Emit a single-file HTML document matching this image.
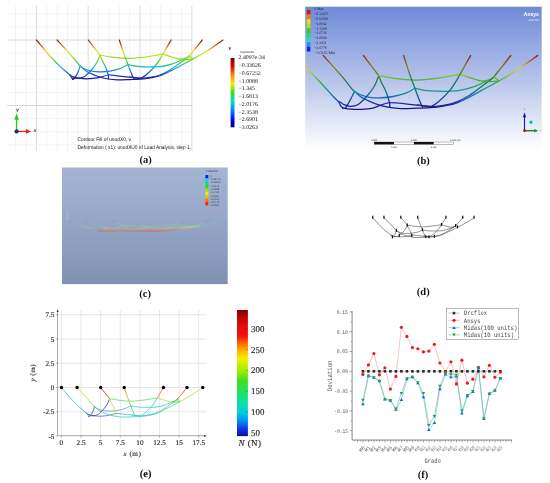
<!DOCTYPE html>
<html lang="en"><head><meta charset="utf-8"><title>Figure</title>
<style>html,body{margin:0;padding:0;background:#fff}svg{display:block}text{font-family:"Liberation Serif",serif}.ss{font-family:"Liberation Sans",sans-serif}.mo{font-family:"Liberation Mono",monospace}#pe text{stroke:#222;stroke-width:.12px}text{text-rendering:geometricPrecision}.cap{font-family:"Liberation Serif",serif;font-weight:bold;font-size:10.5px;fill:#111}</style></head><body>
<svg width="550" height="483" viewBox="0 0 550 483">
<defs>
<linearGradient id="ja" gradientUnits="userSpaceOnUse" x1="0" y1="40" x2="0" y2="80"><stop offset="0" stop-color="#7a2828"/><stop offset="0.08" stop-color="#b03028"/><stop offset="0.18" stop-color="#e87820"/><stop offset="0.27" stop-color="#ece020"/><stop offset="0.36" stop-color="#cce020"/><stop offset="0.45" stop-color="#90d828"/><stop offset="0.55" stop-color="#40cc40"/><stop offset="0.66" stop-color="#18c0c0"/><stop offset="0.80" stop-color="#2070d8"/><stop offset="0.92" stop-color="#1a28b8"/><stop offset="1" stop-color="#181888"/></linearGradient>
<linearGradient id="jb" gradientUnits="userSpaceOnUse" x1="0" y1="55.6" x2="0" y2="109"><stop offset="0" stop-color="#8a2020"/><stop offset="0.08" stop-color="#b04020"/><stop offset="0.18" stop-color="#d0b020"/><stop offset="0.24" stop-color="#d8d828"/><stop offset="0.36" stop-color="#90c828"/><stop offset="0.50" stop-color="#30a840"/><stop offset="0.66" stop-color="#109898"/><stop offset="0.80" stop-color="#1c60b8"/><stop offset="0.90" stop-color="#1a28a8"/><stop offset="1" stop-color="#141488"/></linearGradient>
<linearGradient id="jbd" gradientUnits="userSpaceOnUse" x1="0" y1="55.6" x2="0" y2="109"><stop offset="0" stop-color="#802020"/><stop offset="0.10" stop-color="#8a4820"/><stop offset="0.22" stop-color="#808020"/><stop offset="0.36" stop-color="#408030"/><stop offset="0.52" stop-color="#187858"/><stop offset="0.68" stop-color="#107088"/><stop offset="0.82" stop-color="#1848a0"/><stop offset="0.92" stop-color="#1a2498"/><stop offset="1" stop-color="#141480"/></linearGradient>
<linearGradient id="jc" gradientUnits="userSpaceOnUse" x1="0" y1="221.3" x2="0" y2="231.2"><stop offset="0" stop-color="#6f8fe8"/><stop offset="0.2" stop-color="#60d8e0"/><stop offset="0.4" stop-color="#70e070"/><stop offset="0.6" stop-color="#d8e060"/><stop offset="0.8" stop-color="#f0a040"/><stop offset="1" stop-color="#f05038"/></linearGradient>
<linearGradient id="cbA" x1="0" y1="0" x2="0" y2="1"><stop offset="0" stop-color="#7a0000"/><stop offset="0.12" stop-color="#e00000"/><stop offset="0.25" stop-color="#ff8c00"/><stop offset="0.37" stop-color="#f0f000"/><stop offset="0.5" stop-color="#30e020"/><stop offset="0.63" stop-color="#00e0d0"/><stop offset="0.78" stop-color="#0070ff"/><stop offset="0.9" stop-color="#0000e0"/><stop offset="1" stop-color="#000078"/></linearGradient>
<linearGradient id="cbE" x1="0" y1="0" x2="0" y2="1"><stop offset="0" stop-color="#800000"/><stop offset="0.06" stop-color="#c00404"/><stop offset="0.14" stop-color="#e80c0c"/><stop offset="0.21" stop-color="#f41410"/><stop offset="0.26" stop-color="#ff6000"/><stop offset="0.317" stop-color="#ffb000"/><stop offset="0.386" stop-color="#f0f000"/><stop offset="0.478" stop-color="#a0f000"/><stop offset="0.56" stop-color="#40e020"/><stop offset="0.65" stop-color="#20e060"/><stop offset="0.73" stop-color="#10e0a0"/><stop offset="0.81" stop-color="#00d0e0"/><stop offset="0.88" stop-color="#0090f0"/><stop offset="0.95" stop-color="#1030e0"/><stop offset="1" stop-color="#1010a0"/></linearGradient>
<linearGradient id="bgB" x1="0" y1="0" x2="0" y2="1"><stop offset="0" stop-color="#6e8bd8"/><stop offset="0.5" stop-color="#b5c3ea"/><stop offset="0.985" stop-color="#ffffff"/></linearGradient>
<linearGradient id="bgC" x1="0" y1="0" x2="0" y2="1"><stop offset="0" stop-color="#a4b4d3"/><stop offset="0.46" stop-color="#95a6c7"/><stop offset="1" stop-color="#8092b4"/></linearGradient>
<linearGradient id="eH" gradientUnits="userSpaceOnUse" x1="0" y1="387.5" x2="0" y2="417"><stop offset="0" stop-color="#e03020"/><stop offset="0.25" stop-color="#f08020"/><stop offset="0.42" stop-color="#d8d020"/><stop offset="0.6" stop-color="#50d860"/><stop offset="0.8" stop-color="#30d0c0"/><stop offset="1" stop-color="#30c8d8"/></linearGradient>
<linearGradient id="eY" gradientUnits="userSpaceOnUse" x1="0" y1="387.5" x2="0" y2="417"><stop offset="0" stop-color="#e8d820"/><stop offset="0.5" stop-color="#b0e030"/><stop offset="0.8" stop-color="#40d890"/><stop offset="1" stop-color="#30c8d0"/></linearGradient>
<linearGradient id="eC" gradientUnits="userSpaceOnUse" x1="0" y1="387.5" x2="0" y2="417"><stop offset="0" stop-color="#30d8d0"/><stop offset="0.7" stop-color="#30c0d8"/><stop offset="1" stop-color="#3070d0"/></linearGradient>
<linearGradient id="eBd" gradientUnits="userSpaceOnUse" x1="95" y1="0" x2="203" y2="0"><stop offset="0" stop-color="#60d080"/><stop offset="0.2" stop-color="#40d0c0"/><stop offset="0.55" stop-color="#40d0d4"/><stop offset="0.75" stop-color="#70dc80"/><stop offset="0.88" stop-color="#c0e040"/><stop offset="1" stop-color="#e8e040"/></linearGradient>
<linearGradient id="eBl" gradientUnits="userSpaceOnUse" x1="88" y1="0" x2="172" y2="0"><stop offset="0" stop-color="#5058c8"/><stop offset="0.3" stop-color="#7078cc"/><stop offset="0.45" stop-color="#48c8d4"/><stop offset="1" stop-color="#40d0d4"/></linearGradient>
<linearGradient id="eE" gradientUnits="userSpaceOnUse" x1="0" y1="387.5" x2="0" y2="417"><stop offset="0" stop-color="#e85040"/><stop offset="0.33" stop-color="#f07060"/><stop offset="0.38" stop-color="#40d0c8"/><stop offset="1" stop-color="#38c8d8"/></linearGradient>
<linearGradient id="eF" gradientUnits="userSpaceOnUse" x1="0" y1="387.5" x2="0" y2="417"><stop offset="0" stop-color="#d83828"/><stop offset="0.38" stop-color="#e86048"/><stop offset="0.43" stop-color="#40d0c8"/><stop offset="1" stop-color="#38c8d8"/></linearGradient>
<linearGradient id="eC5" gradientUnits="userSpaceOnUse" x1="0" y1="387.5" x2="0" y2="399"><stop offset="0" stop-color="#8a3030"/><stop offset="1" stop-color="#b85848"/></linearGradient>
<linearGradient id="eC8" gradientUnits="userSpaceOnUse" x1="0" y1="387.5" x2="0" y2="417"><stop offset="0" stop-color="#d88030"/><stop offset="0.3" stop-color="#d8b040"/><stop offset="0.5" stop-color="#90d040"/><stop offset="0.8" stop-color="#40d080"/><stop offset="1" stop-color="#30c8c0"/></linearGradient>
</defs>
<rect width="550" height="483" fill="#fff"/>
<g id="pa">
<line x1="15.68" y1="5.8" x2="15.68" y2="151" stroke="#eeeeee" stroke-width="0.7"/><line x1="26.04" y1="5.8" x2="26.04" y2="151" stroke="#eeeeee" stroke-width="0.7"/><line x1="36.4" y1="5.8" x2="36.4" y2="151" stroke="#d2d2d2" stroke-width="0.8"/><line x1="46.76" y1="5.8" x2="46.76" y2="151" stroke="#eeeeee" stroke-width="0.7"/><line x1="57.12" y1="5.8" x2="57.12" y2="151" stroke="#eeeeee" stroke-width="0.7"/><line x1="67.48" y1="5.8" x2="67.48" y2="151" stroke="#eeeeee" stroke-width="0.7"/><line x1="77.84" y1="5.8" x2="77.84" y2="151" stroke="#eeeeee" stroke-width="0.7"/><line x1="88.2" y1="5.8" x2="88.2" y2="151" stroke="#d2d2d2" stroke-width="0.8"/><line x1="98.56" y1="5.8" x2="98.56" y2="151" stroke="#eeeeee" stroke-width="0.7"/><line x1="108.92" y1="5.8" x2="108.92" y2="151" stroke="#eeeeee" stroke-width="0.7"/><line x1="119.28" y1="5.8" x2="119.28" y2="151" stroke="#eeeeee" stroke-width="0.7"/><line x1="129.64" y1="5.8" x2="129.64" y2="151" stroke="#eeeeee" stroke-width="0.7"/><line x1="140" y1="5.8" x2="140" y2="151" stroke="#d2d2d2" stroke-width="0.8"/><line x1="150.36" y1="5.8" x2="150.36" y2="151" stroke="#eeeeee" stroke-width="0.7"/><line x1="160.72" y1="5.8" x2="160.72" y2="151" stroke="#eeeeee" stroke-width="0.7"/><line x1="171.08" y1="5.8" x2="171.08" y2="151" stroke="#eeeeee" stroke-width="0.7"/><line x1="181.44" y1="5.8" x2="181.44" y2="151" stroke="#eeeeee" stroke-width="0.7"/><line x1="191.8" y1="5.8" x2="191.8" y2="151" stroke="#d2d2d2" stroke-width="0.8"/><line x1="7.2" y1="13.8" x2="192.6" y2="13.8" stroke="#eeeeee" stroke-width="0.7"/><line x1="7.2" y1="26.9" x2="192.6" y2="26.9" stroke="#eeeeee" stroke-width="0.7"/><line x1="7.2" y1="40" x2="192.6" y2="40" stroke="#cecece" stroke-width="0.8"/><line x1="7.2" y1="53.1" x2="192.6" y2="53.1" stroke="#eeeeee" stroke-width="0.7"/><line x1="7.2" y1="66.2" x2="192.6" y2="66.2" stroke="#eeeeee" stroke-width="0.7"/><line x1="7.2" y1="79.3" x2="192.6" y2="79.3" stroke="#eeeeee" stroke-width="0.7"/><line x1="7.2" y1="92.4" x2="192.6" y2="92.4" stroke="#eeeeee" stroke-width="0.7"/><line x1="7.2" y1="105.5" x2="192.6" y2="105.5" stroke="#cecece" stroke-width="0.8"/><line x1="7.2" y1="118.6" x2="192.6" y2="118.6" stroke="#eeeeee" stroke-width="0.7"/><line x1="7.2" y1="131.7" x2="192.6" y2="131.7" stroke="#eeeeee" stroke-width="0.7"/><line x1="7.2" y1="144.8" x2="192.6" y2="144.8" stroke="#eeeeee" stroke-width="0.7"/>
<g fill="none" stroke="url(#ja)" stroke-width="1.2" stroke-linecap="round" stroke-linejoin="round">
<path d="M36.4 40 C38.67 42.67 46.07 51.6 50 56 C53.93 60.4 56.75 63.3 60 66.4 C63.25 69.5 67.38 72.47 69.5 74.6 C71.62 76.73 72.17 78.43 72.7 79.2"/>
<path d="M69.5 74.6 C70 74.93 71.33 76.05 72.5 76.6 C73.67 77.15 75.83 77.68 76.5 77.9"/>
<path d="M57.1 40 C59.25 42.33 66.18 49.67 70 54 C73.82 58.33 78.33 64 80 66"/>
<path d="M72.7 79.2 C73.33 78.55 75.45 76.92 76.5 75.3 C77.55 73.68 78.42 71.05 79 69.5 C79.58 67.95 79.83 66.58 80 66"/>
<path d="M72.7 79.2 C73.33 78.98 74.38 77.97 76.5 77.9 C78.62 77.83 82.65 78.72 85.4 78.8 C88.15 78.88 90.45 78.67 93 78.4 C95.55 78.13 98.15 77.77 100.7 77.2 C103.25 76.63 105.53 75.22 108.3 75 C111.07 74.78 113.68 75.53 117.3 75.9 C120.92 76.27 126.22 76.82 130 77.2 C133.78 77.58 138.33 78.03 140 78.2"/>
<path d="M80 66 C80.9 66.75 83.65 69.27 85.4 70.5 C87.15 71.73 88.37 72.4 90.5 73.4 C92.63 74.4 95.23 75.57 98.2 76.5 C101.17 77.43 105.12 78.43 108.3 79 C111.48 79.57 113.68 79.8 117.3 79.9 C120.92 80 126.22 79.72 130 79.6 C133.78 79.48 136.67 79.47 140 79.2 C143.33 78.93 146.67 78.57 150 78 C153.33 77.43 156.67 76.92 160 75.8 C163.33 74.68 166.67 72.93 170 71.3 C173.33 69.67 176 68.12 180 66 C184 63.88 189 61.43 194 58.6 C199 55.77 205.17 52.1 210 49 C214.83 45.9 220.83 41.5 223 40"/>
<path d="M80 66 C80.9 66.55 83.23 68.4 85.4 69.3 C87.57 70.2 90.45 70.98 93 71.4 C95.55 71.82 97.7 71.9 100.7 71.8 C103.7 71.7 107.62 71.38 111 70.8 C114.38 70.22 118.17 69.33 121 68.3 C123.83 67.27 126.83 65.22 128 64.6"/>
<path d="M128 64.6 C130 64.93 134.67 66.27 140 66.6 C145.33 66.93 154.67 67.03 160 66.6 C165.33 66.17 168 65.27 172 64 C176 62.73 181 60.28 184 59 C187 57.72 189 56.75 190 56.3"/>
<path d="M88.2 40 L100 55"/>
<path d="M100 55 C99.48 56.25 98.27 60.08 96.9 62.5 C95.53 64.92 93.72 67.27 91.8 69.5 C89.88 71.73 87.1 74.52 85.4 75.9 C83.7 77.28 83 77.42 81.6 77.8 C80.2 78.18 77.77 78.13 77 78.2"/>
<path d="M100 55 C100.33 55.83 101.03 57.9 102 60 C102.97 62.1 104.75 65.05 105.8 67.6 C106.85 70.15 107.85 73.47 108.3 75.3 C108.75 77.13 108.47 78.05 108.5 78.6"/>
<path d="M100 55 C102.33 55.4 109.33 56.83 114 57.4 C118.67 57.97 123.67 58.37 128 58.4 C132.33 58.43 136 58 140 57.6 C144 57.2 148.17 56.6 152 56 C155.83 55.4 161.17 54.33 163 54"/>
<path d="M163 54 C164.5 54.5 169.17 56.13 172 57 C174.83 57.87 177.67 59.03 180 59.2 C182.33 59.37 184.5 58.53 186 58 C187.5 57.47 188.5 56.33 189 56"/>
<path d="M119.3 40 C120.08 42.33 122.55 49.9 124 54 C125.45 58.1 126.67 61.1 128 64.6 C129.33 68.1 131 72.67 132 75 C133 77.33 133.67 78 134 78.6"/>
<path d="M171.1 40 C169.75 42.33 165.52 49.83 163 54 C160.48 58.17 158.83 61.5 156 65 C153.17 68.5 148.67 72.73 146 75 C143.33 77.27 141 78 140 78.6"/>
<path d="M202.2 40 C200 42.67 192.7 52.17 189 56 C185.3 59.83 183.17 60.67 180 63 C176.83 65.33 173.33 68 170 70 C166.67 72 163.33 73.77 160 75 C156.67 76.23 153.33 76.83 150 77.4 C146.67 77.97 143.33 78.43 140 78.4 C136.67 78.37 131.67 77.4 130 77.2"/>
<path d="M189 56 C189.58 56.5 193.33 58.4 192.5 59 C191.67 59.6 185.42 59.5 184 59.6"/>
</g>
<line x1="16.6" y1="131.4" x2="16.6" y2="119" stroke="#22cc22" stroke-width="1.3"/><path d="M16.6 113.2 L14.3 119.7 L18.9 119.7 Z" fill="#22cc22"/>
<line x1="16.6" y1="131.4" x2="26.4" y2="131.4" stroke="#e42424" stroke-width="1.3"/><path d="M31.1 131.4 L25.9 129.1 L25.9 133.7 Z" fill="#e42424"/>
<circle cx="16.6" cy="131.4" r="2.1" fill="#123a5c"/>
<text class="ss" x="15.8" y="111.6" font-size="4.8" font-weight="bold" font-style="italic" fill="#222">Y</text>
<text class="ss" x="33.4" y="131.9" font-size="4.8" font-weight="bold" font-style="italic" fill="#222">x</text>
<text class="ss" x="77.6" y="140.8" font-size="5.3" fill="#151515" textLength="54.4" lengthAdjust="spacingAndGlyphs">Contour Fill of unodX0, v.</text>
<text class="ss" x="77.6" y="148.9" font-size="5.3" fill="#151515" textLength="113.4" lengthAdjust="spacingAndGlyphs">Deformation ( x1): unodXU0 of Load Analysis, step 1.</text>
<rect x="230.6" y="58" width="3.9" height="69.3" fill="url(#cbA)"/>
<text x="228.6" y="49.9" font-size="5.8" font-weight="bold" fill="#222">v</text>
<line x1="240" y1="52.1" x2="254.1" y2="52.1" stroke="#555" stroke-width="0.8"/>
<text x="238.5" y="59.3" font-size="5.85" fill="#111">2.4097e-34</text>
<text x="238.5" y="67.05" font-size="5.85" fill="#111">−0.33626</text>
<text x="238.5" y="74.8" font-size="5.85" fill="#111">−0.67252</text>
<text x="238.5" y="82.55" font-size="5.85" fill="#111">−1.0088</text>
<text x="238.5" y="90.3" font-size="5.85" fill="#111">−1.345</text>
<text x="238.5" y="98.05" font-size="5.85" fill="#111">−1.6813</text>
<text x="238.5" y="105.8" font-size="5.85" fill="#111">−2.0176</text>
<text x="238.5" y="113.55" font-size="5.85" fill="#111">−2.3538</text>
<text x="238.5" y="121.3" font-size="5.85" fill="#111">−2.6901</text>
<text x="238.5" y="129.05" font-size="5.85" fill="#111">−3.0263</text>
<text class="cap" x="139.5" y="163.4">(a)</text>
</g>
<g id="pb">
<clipPath id="clb"><rect x="305.2" y="6.7" width="236.5" height="144.8"/></clipPath>
<rect x="305.2" y="6.7" width="236.5" height="144.8" fill="url(#bgB)"/>
<g clip-path="url(#clb)" fill="none" stroke="url(#jb)" stroke-width="1.3" stroke-linecap="round" stroke-linejoin="round">
<path d="M296.6 55.6 C298.1 57.45 301.93 62.55 305.6 66.7 C309.27 70.85 314.45 76.03 318.6 80.5 C322.75 84.97 327.6 90.38 330.5 93.5 C333.4 96.62 334.57 97.68 336 99.2 C337.43 100.72 338.32 101.5 339.1 102.6 C339.88 103.7 340.08 104.9 340.7 105.8 C341.32 106.7 342.45 107.63 342.8 108"/>
<path d="M339.35 101.56 C339.99 102 341.72 103.48 343.22 104.21 C344.73 104.94 347.53 105.65 348.39 105.94"/>
<path d="M323.33 55.6 C326.11 58.7 335.07 68.44 339.99 74.2 C344.92 79.95 350.76 87.48 352.91 90.13" stroke="url(#jbd)"/>
<path d="M342.8 108 C343.13 108.05 344.2 108.53 344.8 108.3 C345.4 108.07 345.77 107.48 346.4 106.6 C347.03 105.72 347.75 104.52 348.6 103 C349.45 101.48 350.68 99.07 351.5 97.5 C352.32 95.93 353 94.58 353.5 93.6 C354 92.62 354.33 91.93 354.5 91.6" stroke="url(#jbd)"/>
<path d="M343.6 108.3 C344.67 108.43 347.72 108.92 350 109.1 C352.28 109.28 353.97 109.48 357.3 109.4 C360.63 109.32 366.38 109.18 370 108.6 C373.62 108.02 375.97 106.87 379 105.9 C382.03 104.93 384.87 103.25 388.2 102.8 C391.53 102.35 395.07 102.9 399 103.2 C402.93 103.5 407.97 104.2 411.8 104.6 C415.63 105 418.88 105.32 422 105.6 C425.12 105.88 429.08 106.18 430.5 106.3"/>
<path d="M352.91 90.13 C354.07 91.13 357.62 94.47 359.88 96.11 C362.14 97.75 363.72 98.64 366.47 99.96 C369.23 101.29 372.58 102.84 376.42 104.08 C380.25 105.32 385.35 106.65 389.46 107.4 C393.57 108.15 396.41 108.46 401.08 108.6 C405.75 108.73 412.6 108.35 417.48 108.2 C422.37 108.04 426.09 108.02 430.4 107.67 C434.71 107.31 439.01 106.83 443.32 106.07 C447.62 105.32 451.93 104.63 456.23 103.15 C460.54 101.67 464.84 99.34 469.15 97.17 C473.45 95 476.89 92.95 482.06 90.13 C487.23 87.32 493.68 84.07 500.14 80.31 C506.6 76.54 514.56 71.67 520.81 67.55 C527.05 63.44 534.8 57.59 537.59 55.6"/>
<path d="M352.91 90.13 C354.07 90.86 357.09 93.32 359.88 94.52 C362.68 95.71 366.41 96.75 369.7 97.31 C372.99 97.86 375.77 97.97 379.64 97.84 C383.52 97.71 388.58 97.28 392.95 96.51 C397.32 95.74 402.2 94.56 405.86 93.19 C409.52 91.82 413.4 89.09 414.9 88.27"/>
<path d="M414.9 88.27 C417.48 88.72 423.51 90.49 430.4 90.93 C437.29 91.37 449.34 91.51 456.23 90.93 C463.12 90.36 466.56 89.16 471.73 87.48 C476.89 85.8 483.35 82.54 487.23 80.84 C491.1 79.13 493.68 77.85 494.98 77.25"/>
<path d="M363.5 55.6 L378.74 75.52" stroke="url(#jbd)"/>
<path d="M378.74 75.52 C378.07 77.18 376.5 82.28 374.74 85.49 C372.97 88.7 370.62 91.82 368.15 94.78 C365.67 97.75 362.08 101.45 359.88 103.28 C357.69 105.12 356.78 105.3 354.98 105.81 C353.17 106.32 350.03 106.25 349.04 106.34" stroke="url(#jbd)"/>
<path d="M378.74 75.52 C379.17 76.63 380.07 79.38 381.32 82.16 C382.57 84.95 384.87 88.87 386.23 92.26 C387.59 95.65 388.88 100.05 389.46 102.49 C390.04 104.92 389.67 106.14 389.72 106.87" stroke="url(#jbd)"/>
<path d="M378.74 75.52 C381.75 76.05 390.79 77.96 396.82 78.71 C402.85 79.46 409.31 80 414.9 80.04 C420.5 80.08 425.23 79.51 430.4 78.98 C435.57 78.45 440.95 77.65 445.9 76.85 C450.85 76.05 457.74 74.64 460.1 74.2"/>
<path d="M460.1 74.2 C462.04 74.86 468.07 77.03 471.73 78.18 C475.39 79.33 479.05 80.88 482.06 81.1 C485.07 81.32 487.87 80.22 489.81 79.51 C491.75 78.8 493.04 77.29 493.68 76.85"/>
<path d="M403.67 55.6 C404.68 58.7 407.86 68.75 409.74 74.2 C411.61 79.64 413.18 83.63 414.9 88.27 C416.62 92.92 418.78 98.99 420.07 102.09 C421.36 105.19 422.22 106.07 422.65 106.87" stroke="url(#jbd)"/>
<path d="M470.57 55.6 C468.82 58.7 463.35 68.66 460.1 74.2 C456.85 79.73 454.72 84.16 451.06 88.81 C447.4 93.45 441.59 99.08 438.15 102.09 C434.71 105.1 431.69 106.07 430.4 106.87" stroke="url(#jbd)"/>
<path d="M510.73 55.6 C507.89 59.14 498.46 71.76 493.68 76.85 C488.91 81.94 486.15 83.05 482.06 86.15 C477.97 89.25 473.45 92.79 469.15 95.45 C464.84 98.1 460.54 100.45 456.23 102.09 C451.93 103.73 447.62 104.52 443.32 105.28 C439.01 106.03 434.71 106.65 430.4 106.6 C426.09 106.56 419.64 105.28 417.48 105.01" stroke="url(#jbd)"/>
<path d="M493.68 76.85 C494.44 77.52 499.28 80.04 498.2 80.84 C497.13 81.63 489.06 81.5 487.23 81.63"/>
</g>
<rect x="306.8" y="9.9" width="3.6" height="4.7" fill="#e01010"/>
<rect x="306.8" y="14.52" width="3.6" height="4.7" fill="#f08010"/>
<rect x="306.8" y="19.14" width="3.6" height="4.7" fill="#f0e010"/>
<rect x="306.8" y="23.76" width="3.6" height="4.7" fill="#b0e010"/>
<rect x="306.8" y="28.38" width="3.6" height="4.7" fill="#30d020"/>
<rect x="306.8" y="33" width="3.6" height="4.7" fill="#20d880"/>
<rect x="306.8" y="37.62" width="3.6" height="4.7" fill="#20d8d8"/>
<rect x="306.8" y="42.24" width="3.6" height="4.7" fill="#2090e8"/>
<rect x="306.8" y="46.86" width="3.6" height="4.7" fill="#1030d0"/>
<text x="314.2" y="10.3" font-size="3.7" fill="#16162a" textLength="9.5" lengthAdjust="spacingAndGlyphs">0 Max</text>
<text x="314.2" y="15.11" font-size="3.7" fill="#16162a" textLength="14.2" lengthAdjust="spacingAndGlyphs">−0.33473</text>
<text x="314.2" y="19.92" font-size="3.7" fill="#16162a" textLength="14.2" lengthAdjust="spacingAndGlyphs">−0.66945</text>
<text x="314.2" y="24.73" font-size="3.7" fill="#16162a" textLength="12.6" lengthAdjust="spacingAndGlyphs">−1.0042</text>
<text x="314.2" y="29.54" font-size="3.7" fill="#16162a" textLength="12.6" lengthAdjust="spacingAndGlyphs">−1.3389</text>
<text x="314.2" y="34.35" font-size="3.7" fill="#16162a" textLength="12.6" lengthAdjust="spacingAndGlyphs">−1.6736</text>
<text x="314.2" y="39.16" font-size="3.7" fill="#16162a" textLength="12.6" lengthAdjust="spacingAndGlyphs">−2.0084</text>
<text x="314.2" y="43.97" font-size="3.7" fill="#16162a" textLength="12.6" lengthAdjust="spacingAndGlyphs">−2.3431</text>
<text x="314.2" y="48.78" font-size="3.7" fill="#16162a" textLength="12.6" lengthAdjust="spacingAndGlyphs">−2.6778</text>
<text x="314.2" y="53.59" font-size="3.7" fill="#16162a" textLength="21.2" lengthAdjust="spacingAndGlyphs">−3.0125 Min</text>
<text class="ss" x="523.8" y="16.3" font-size="5.3" font-weight="bold" fill="#fff" textLength="15.1" lengthAdjust="spacingAndGlyphs">Ansys</text>
<text class="ss" x="528.6" y="21.4" font-size="2.9" fill="#eef1ff" textLength="10.3" lengthAdjust="spacingAndGlyphs">2021 R2</text>
<rect x="374.2" y="142" width="79.4" height="2.3" fill="#fff" stroke="#222" stroke-width="0.3"/>
<rect x="374.2" y="142" width="19.7" height="2.3" fill="#111"/><rect x="413.9" y="142" width="19.8" height="2.3" fill="#111"/>
<text class="ss" x="374.2" y="140.9" font-size="2.3" fill="#222" text-anchor="middle">0.000</text>
<text class="ss" x="413.9" y="140.9" font-size="2.3" fill="#222" text-anchor="middle">3.000</text>
<text class="ss" x="455.5" y="140.9" font-size="2.3" fill="#222" text-anchor="middle">6.000 (m)</text>
<text class="ss" x="394" y="147.9" font-size="2.3" fill="#222" text-anchor="middle">1.500</text>
<text class="ss" x="433.7" y="147.9" font-size="2.3" fill="#222" text-anchor="middle">4.500</text>
<line x1="524.5" y1="130.6" x2="524.5" y2="116.5" stroke="#1a1aa8" stroke-width="1.1"/><path d="M524.5 112.3 L522.8 117.2 L526.2 117.2 Z" fill="#1a1ab0"/>
<line x1="524.5" y1="130.7" x2="534.6" y2="130.7" stroke="#1f7f24" stroke-width="1.5"/><path d="M538.3 130.7 L534.2 128.9 L534.2 132.5 Z" fill="#1f8a26"/>
<circle cx="524.5" cy="130.7" r="1.4" fill="#b01414"/><circle cx="531" cy="122.2" r="1.6" fill="#12b4b0"/>
<text class="ss" x="524" y="109.6" font-size="2.2" fill="#335">z</text><text class="ss" x="540.3" y="131" font-size="2.2" fill="#353">y</text>
<text class="cap" x="416.9" y="164.4">(b)</text>
</g>
<g id="pc">
<rect x="62" y="167.5" width="165.7" height="116.6" fill="url(#bgC)"/>
<g fill="none" stroke="url(#jc)" stroke-width="0.75" stroke-linecap="round" opacity="0.62">
<path d="M69.5 221.3 C71.39 221.97 77.56 224.22 80.84 225.33 C84.12 226.44 86.47 227.17 89.18 227.95 C91.89 228.73 95.34 229.48 97.1 230.02 C98.87 230.55 99.33 230.98 99.77 231.17"/>
<path d="M97.1 230.02 C97.52 230.1 98.63 230.38 99.61 230.52 C100.58 230.66 102.39 230.79 102.94 230.85"/>
<path d="M86.76 221.3 C88.56 221.89 94.34 223.74 97.52 224.83 C100.7 225.92 104.47 227.35 105.86 227.85"/>
<path d="M99.77 231.17 C100.3 231.01 102.07 230.6 102.94 230.19 C103.82 229.79 104.54 229.12 105.03 228.73 C105.51 228.34 105.72 228 105.86 227.85"/>
<path d="M99.77 231.17 C100.3 231.12 101.18 230.86 102.94 230.85 C104.71 230.83 108.07 231.05 110.36 231.07 C112.66 231.1 114.58 231.04 116.7 230.97 C118.83 230.91 121 230.81 123.12 230.67 C125.25 230.53 127.16 230.17 129.46 230.12 C131.77 230.06 133.95 230.25 136.97 230.34 C139.98 230.44 144.41 230.57 147.56 230.67 C150.72 230.77 154.51 230.88 155.9 230.92"/>
<path d="M105.86 227.85 C106.61 228.04 108.91 228.67 110.36 228.98 C111.82 229.29 112.84 229.46 114.62 229.71 C116.4 229.97 118.57 230.26 121.04 230.49 C123.51 230.73 126.81 230.98 129.46 231.12 C132.12 231.27 133.95 231.33 136.97 231.35 C139.98 231.38 144.41 231.3 147.56 231.28 C150.72 231.25 153.12 231.24 155.9 231.17 C158.68 231.11 161.46 231.02 164.24 230.87 C167.02 230.73 169.8 230.6 172.58 230.32 C175.36 230.04 178.14 229.6 180.92 229.18 C183.7 228.77 185.92 228.38 189.26 227.85 C192.59 227.32 196.76 226.7 200.93 225.99 C205.1 225.27 210.25 224.35 214.28 223.57 C218.31 222.79 223.31 221.68 225.12 221.3"/>
<path d="M105.86 227.85 C106.61 227.99 108.56 228.45 110.36 228.68 C112.17 228.91 114.58 229.1 116.7 229.21 C118.83 229.31 120.62 229.34 123.12 229.31 C125.63 229.29 128.89 229.21 131.71 229.06 C134.54 228.91 137.69 228.69 140.05 228.43 C142.42 228.17 144.92 227.65 145.89 227.5"/>
<path d="M145.89 227.5 C147.56 227.58 151.45 227.92 155.9 228 C160.35 228.08 168.13 228.11 172.58 228 C177.03 227.89 179.25 227.66 182.59 227.35 C185.92 227.03 190.09 226.41 192.59 226.09 C195.1 225.76 196.76 225.52 197.6 225.41"/>
<path d="M112.7 221.3 L122.54 225.08"/>
<path d="M122.54 225.08 C122.11 225.39 121.1 226.36 119.96 226.97 C118.82 227.58 117.3 228.17 115.7 228.73 C114.1 229.29 111.78 230 110.36 230.34 C108.95 230.69 108.36 230.73 107.2 230.82 C106.03 230.92 104 230.91 103.36 230.92"/>
<path d="M122.54 225.08 C122.82 225.29 123.4 225.81 124.21 226.34 C125.02 226.87 126.5 227.61 127.38 228.25 C128.25 228.9 129.09 229.73 129.46 230.19 C129.84 230.65 129.6 230.89 129.63 231.02"/>
<path d="M122.54 225.08 C124.49 225.18 130.32 225.54 134.22 225.68 C138.11 225.83 142.28 225.93 145.89 225.94 C149.51 225.94 152.56 225.83 155.9 225.73 C159.24 225.63 162.71 225.48 165.91 225.33 C169.1 225.18 173.55 224.91 175.08 224.83"/>
<path d="M175.08 224.83 C176.33 224.95 180.22 225.36 182.59 225.58 C184.95 225.8 187.31 226.09 189.26 226.14 C191.21 226.18 193.01 225.97 194.26 225.83 C195.51 225.7 196.35 225.41 196.76 225.33"/>
<path d="M138.64 221.3 C139.29 221.89 141.35 223.79 142.56 224.83 C143.77 225.86 144.78 226.62 145.89 227.5 C147 228.38 148.39 229.53 149.23 230.12 C150.06 230.7 150.62 230.87 150.9 231.02"/>
<path d="M181.84 221.3 C180.71 221.89 177.18 223.78 175.08 224.83 C172.98 225.88 171.61 226.72 169.24 227.6 C166.88 228.48 163.13 229.55 160.9 230.12 C158.68 230.69 156.73 230.87 155.9 231.02"/>
<path d="M207.77 221.3 C205.94 221.97 199.85 224.36 196.76 225.33 C193.68 226.3 191.9 226.51 189.26 227.09 C186.62 227.68 183.7 228.35 180.92 228.86 C178.14 229.36 175.36 229.81 172.58 230.12 C169.8 230.43 167.02 230.58 164.24 230.72 C161.46 230.86 158.68 230.98 155.9 230.97 C153.12 230.96 148.95 230.72 147.56 230.67"/>
<path d="M196.76 225.33 C197.25 225.46 200.38 225.94 199.68 226.09 C198.99 226.24 193.78 226.21 192.59 226.24"/>
</g>
<rect x="68.6" y="220.6" width="1.8" height="1.2" fill="#7f9ae0" opacity="0.8"/>
<rect x="85.88" y="220.6" width="1.8" height="1.2" fill="#7f9ae0" opacity="0.8"/>
<rect x="111.8" y="220.6" width="1.8" height="1.2" fill="#7f9ae0" opacity="0.8"/>
<rect x="137.72" y="220.6" width="1.8" height="1.2" fill="#7f9ae0" opacity="0.8"/>
<rect x="180.92" y="220.6" width="1.8" height="1.2" fill="#7f9ae0" opacity="0.8"/>
<rect x="206.84" y="220.6" width="1.8" height="1.2" fill="#7f9ae0" opacity="0.8"/>
<rect x="224.12" y="220.6" width="1.8" height="1.2" fill="#7f9ae0" opacity="0.8"/>
<path d="M67.3 211 V221 M66 213 H68.6 M66 216 H68.6 M66 219 H68.6" stroke="#b9c6e0" stroke-width="0.5" fill="none" opacity="0.8"/>
<rect x="205.4" y="175.05" width="2.9" height="3.45" fill="#0c18e4"/>
<rect x="205.4" y="178.42" width="2.9" height="3.45" fill="#08dce0"/>
<rect x="205.4" y="181.79" width="2.9" height="3.45" fill="#20d068"/>
<rect x="205.4" y="185.17" width="2.9" height="3.45" fill="#30d420"/>
<rect x="205.4" y="188.54" width="2.9" height="3.45" fill="#a0e020"/>
<rect x="205.4" y="191.91" width="2.9" height="3.45" fill="#f0f000"/>
<rect x="205.4" y="195.28" width="2.9" height="3.45" fill="#f8b800"/>
<rect x="205.4" y="198.65" width="2.9" height="3.45" fill="#f87800"/>
<rect x="205.4" y="202.03" width="2.9" height="3.45" fill="#f02408"/>
<text class="ss" x="205.9" y="171.6" font-size="2.9" fill="#2c3650" textLength="12.1" lengthAdjust="spacingAndGlyphs">Y-direction</text>
<text class="ss" x="210.3" y="176.6" font-size="2.7" fill="#343e5a" textLength="1.4" lengthAdjust="spacingAndGlyphs">0</text>
<text class="ss" x="210.3" y="179.92" font-size="2.7" fill="#343e5a" textLength="10.1" lengthAdjust="spacingAndGlyphs">-0.33473</text>
<text class="ss" x="210.3" y="183.24" font-size="2.7" fill="#343e5a" textLength="10.1" lengthAdjust="spacingAndGlyphs">-0.66945</text>
<text class="ss" x="210.3" y="186.56" font-size="2.7" fill="#343e5a" textLength="8.8" lengthAdjust="spacingAndGlyphs">-1.0042</text>
<text class="ss" x="210.3" y="189.88" font-size="2.7" fill="#343e5a" textLength="8.8" lengthAdjust="spacingAndGlyphs">-1.3389</text>
<text class="ss" x="210.3" y="193.2" font-size="2.7" fill="#343e5a" textLength="8.8" lengthAdjust="spacingAndGlyphs">-1.6736</text>
<text class="ss" x="210.3" y="196.52" font-size="2.7" fill="#343e5a" textLength="8.8" lengthAdjust="spacingAndGlyphs">-2.0084</text>
<text class="ss" x="210.3" y="199.84" font-size="2.7" fill="#343e5a" textLength="8.8" lengthAdjust="spacingAndGlyphs">-2.3431</text>
<text class="ss" x="210.3" y="203.16" font-size="2.7" fill="#343e5a" textLength="8.8" lengthAdjust="spacingAndGlyphs">-2.6778</text>
<text class="ss" x="210.3" y="206.48" font-size="2.7" fill="#343e5a" textLength="8.8" lengthAdjust="spacingAndGlyphs">-3.0125</text>
<text class="cap" x="139.3" y="296.6">(c)</text>
</g>
<g id="pd">
<g fill="none" stroke="#3a3a3a" stroke-width="0.55" stroke-linecap="round">
<path d="M372.7 217.7 C373.93 219.02 377.95 223.46 380.09 225.64 C382.23 227.82 383.76 229.26 385.53 230.8 C387.29 232.34 389.54 233.81 390.69 234.87 C391.84 235.93 392.14 236.77 392.43 237.15"/>
<path d="M390.69 234.87 C390.96 235.03 391.68 235.59 392.32 235.86 C392.95 236.13 394.13 236.4 394.49 236.51"/>
<path d="M383.95 217.7 C385.12 218.86 388.89 222.5 390.96 224.65 C393.03 226.8 395.49 229.61 396.39 230.6"/>
<path d="M392.43 237.15 C392.77 236.83 393.92 236.02 394.49 235.22 C395.06 234.41 395.53 233.11 395.85 232.34 C396.17 231.57 396.3 230.89 396.39 230.6"/>
<path d="M392.43 237.15 C392.77 237.04 393.34 236.54 394.49 236.51 C395.64 236.47 397.83 236.91 399.33 236.95 C400.82 236.99 402.07 236.89 403.46 236.75 C404.84 236.62 406.26 236.44 407.64 236.16 C409.03 235.88 410.27 235.17 411.77 235.07 C413.28 234.96 414.7 235.33 416.66 235.51 C418.63 235.69 421.51 235.97 423.57 236.16 C425.62 236.35 428.09 236.57 429 236.65"/>
<path d="M396.39 230.6 C396.88 230.97 398.38 232.22 399.33 232.83 C400.28 233.45 400.94 233.78 402.1 234.27 C403.26 234.77 404.67 235.35 406.28 235.81 C407.9 236.27 410.04 236.77 411.77 237.05 C413.5 237.33 414.7 237.45 416.66 237.5 C418.63 237.55 421.51 237.41 423.57 237.35 C425.62 237.29 427.19 237.28 429 237.15 C430.81 237.02 432.62 236.84 434.43 236.55 C436.25 236.27 438.06 236.02 439.87 235.46 C441.68 234.91 443.49 234.04 445.3 233.23 C447.11 232.42 448.56 231.65 450.74 230.6 C452.91 229.55 455.63 228.33 458.35 226.93 C461.06 225.52 464.41 223.7 467.04 222.17 C469.67 220.63 472.93 218.44 474.11 217.7"/>
<path d="M396.39 230.6 C396.88 230.87 398.15 231.79 399.33 232.24 C400.51 232.68 402.07 233.07 403.46 233.28 C404.84 233.49 406.01 233.53 407.64 233.48 C409.27 233.43 411.4 233.27 413.24 232.98 C415.08 232.69 417.13 232.25 418.67 231.74 C420.21 231.23 421.84 230.21 422.48 229.91"/>
<path d="M422.48 229.91 C423.57 230.07 426.1 230.73 429 230.9 C431.9 231.06 436.97 231.11 439.87 230.9 C442.77 230.68 444.22 230.24 446.39 229.61 C448.56 228.98 451.28 227.76 452.91 227.13 C454.54 226.49 455.63 226.01 456.17 225.79"/>
<path d="M400.85 217.7 L407.26 225.14"/>
<path d="M407.26 225.14 C406.98 225.76 406.32 227.67 405.58 228.86 C404.84 230.06 403.85 231.23 402.81 232.34 C401.76 233.45 400.25 234.83 399.33 235.51 C398.4 236.2 398.02 236.27 397.26 236.46 C396.5 236.65 395.18 236.62 394.76 236.65"/>
<path d="M407.26 225.14 C407.44 225.56 407.82 226.58 408.35 227.62 C408.87 228.67 409.84 230.13 410.41 231.39 C410.99 232.66 411.53 234.31 411.77 235.22 C412.02 236.12 411.86 236.58 411.88 236.85"/>
<path d="M407.26 225.14 C408.53 225.34 412.33 226.05 414.87 226.33 C417.41 226.61 420.12 226.81 422.48 226.83 C424.83 226.85 426.83 226.63 429 226.43 C431.17 226.23 433.44 225.94 435.52 225.64 C437.6 225.34 440.5 224.81 441.5 224.65"/>
<path d="M441.5 224.65 C442.31 224.89 444.85 225.71 446.39 226.14 C447.93 226.57 449.47 227.14 450.74 227.23 C452.01 227.31 453.18 226.9 454 226.63 C454.81 226.37 455.36 225.8 455.63 225.64"/>
<path d="M417.75 217.7 C418.18 218.86 419.52 222.61 420.31 224.65 C421.09 226.68 421.75 228.17 422.48 229.91 C423.2 231.64 424.11 233.91 424.65 235.07 C425.2 236.22 425.56 236.55 425.74 236.85"/>
<path d="M445.9 217.7 C445.17 218.86 442.87 222.58 441.5 224.65 C440.13 226.71 439.23 228.37 437.69 230.1 C436.16 231.84 433.71 233.94 432.26 235.07 C430.81 236.19 429.54 236.55 429 236.85"/>
<path d="M462.8 217.7 C461.61 219.02 457.64 223.74 455.63 225.64 C453.62 227.54 452.46 227.95 450.74 229.11 C449.02 230.27 447.11 231.59 445.3 232.59 C443.49 233.58 441.68 234.45 439.87 235.07 C438.06 235.68 436.25 235.98 434.43 236.26 C432.62 236.54 430.81 236.77 429 236.75 C427.19 236.74 424.47 236.26 423.57 236.16"/>
</g>
<rect x="372.1" y="215.7" width="1.2" height="3" fill="#111"/>
<rect x="383.36" y="215.7" width="1.2" height="3" fill="#111"/>
<rect x="400.25" y="215.7" width="1.2" height="3" fill="#111"/>
<rect x="417.14" y="215.7" width="1.2" height="3" fill="#111"/>
<rect x="445.29" y="215.7" width="1.2" height="3" fill="#111"/>
<rect x="462.18" y="215.7" width="1.2" height="3" fill="#111"/>
<rect x="473.44" y="215.7" width="1.2" height="3" fill="#111"/>
<rect x="395.79" y="228.9" width="1.2" height="3" fill="#111"/>
<rect x="406.66" y="223.44" width="1.2" height="3" fill="#111"/>
<rect x="421.88" y="228.21" width="1.2" height="3" fill="#111"/>
<rect x="440.9" y="222.95" width="1.2" height="3" fill="#111"/>
<rect x="455.03" y="223.94" width="1.2" height="3" fill="#111"/>
<rect x="456.93" y="225.43" width="1.2" height="3" fill="#111"/>
<rect x="391.83" y="235.35" width="1.2" height="3" fill="#111"/>
<rect x="411.17" y="233.86" width="1.2" height="3" fill="#111"/>
<rect x="425.14" y="235.1" width="1.2" height="3" fill="#111"/>
<rect x="428.4" y="235.25" width="1.2" height="3" fill="#111"/>
<rect x="433.83" y="234.85" width="1.2" height="3" fill="#111"/>
<rect x="398.73" y="233.81" width="1.2" height="3" fill="#111"/>
<text class="cap" x="416.8" y="295.2">(d)</text>
</g>
<g id="pe">
<line x1="61.4" y1="310" x2="61.4" y2="435.7" stroke="#dcdcdc" stroke-width="0.7"/><line x1="81.03" y1="310" x2="81.03" y2="435.7" stroke="#dcdcdc" stroke-width="0.7"/><line x1="100.65" y1="310" x2="100.65" y2="435.7" stroke="#dcdcdc" stroke-width="0.7"/><line x1="120.28" y1="310" x2="120.28" y2="435.7" stroke="#dcdcdc" stroke-width="0.7"/><line x1="139.9" y1="310" x2="139.9" y2="435.7" stroke="#dcdcdc" stroke-width="0.7"/><line x1="159.53" y1="310" x2="159.53" y2="435.7" stroke="#dcdcdc" stroke-width="0.7"/><line x1="179.15" y1="310" x2="179.15" y2="435.7" stroke="#dcdcdc" stroke-width="0.7"/><line x1="198.78" y1="310" x2="198.78" y2="435.7" stroke="#dcdcdc" stroke-width="0.7"/><line x1="57.6" y1="314.75" x2="206.5" y2="314.75" stroke="#dcdcdc" stroke-width="0.7"/><line x1="57.6" y1="339" x2="206.5" y2="339" stroke="#dcdcdc" stroke-width="0.7"/><line x1="57.6" y1="363.25" x2="206.5" y2="363.25" stroke="#dcdcdc" stroke-width="0.7"/><line x1="57.6" y1="387.5" x2="206.5" y2="387.5" stroke="#dcdcdc" stroke-width="0.7"/><line x1="57.6" y1="411.75" x2="206.5" y2="411.75" stroke="#dcdcdc" stroke-width="0.7"/>
<path d="M57.6 310.6 V435.7 H205.6" fill="none" stroke="#8c8c8c" stroke-width="0.75"/>
<path d="M57.6 309.2 L56.6 312 L58.6 312 Z M206.8 435.7 L204 435.1 L204 437.1 Z" fill="#333"/>
<line x1="61.4" y1="435.7" x2="61.4" y2="437.4" stroke="#777" stroke-width="0.6"/>
<text x="61.4" y="444.5" font-size="7.2" fill="#222" text-anchor="middle">0</text>
<line x1="81.03" y1="435.7" x2="81.03" y2="437.4" stroke="#777" stroke-width="0.6"/>
<text x="81.03" y="444.5" font-size="7.2" fill="#222" text-anchor="middle">2.5</text>
<line x1="100.65" y1="435.7" x2="100.65" y2="437.4" stroke="#777" stroke-width="0.6"/>
<text x="100.65" y="444.5" font-size="7.2" fill="#222" text-anchor="middle">5</text>
<line x1="120.28" y1="435.7" x2="120.28" y2="437.4" stroke="#777" stroke-width="0.6"/>
<text x="120.28" y="444.5" font-size="7.2" fill="#222" text-anchor="middle">7.5</text>
<line x1="139.9" y1="435.7" x2="139.9" y2="437.4" stroke="#777" stroke-width="0.6"/>
<text x="139.9" y="444.5" font-size="7.2" fill="#222" text-anchor="middle">10</text>
<line x1="159.53" y1="435.7" x2="159.53" y2="437.4" stroke="#777" stroke-width="0.6"/>
<text x="159.53" y="444.5" font-size="7.2" fill="#222" text-anchor="middle">12.5</text>
<line x1="179.15" y1="435.7" x2="179.15" y2="437.4" stroke="#777" stroke-width="0.6"/>
<text x="179.15" y="444.5" font-size="7.2" fill="#222" text-anchor="middle">15</text>
<line x1="198.78" y1="435.7" x2="198.78" y2="437.4" stroke="#777" stroke-width="0.6"/>
<text x="198.78" y="444.5" font-size="7.2" fill="#222" text-anchor="middle">17.5</text>
<line x1="56" y1="314.75" x2="57.6" y2="314.75" stroke="#777" stroke-width="0.6"/>
<text x="54.4" y="317.25" font-size="7.2" fill="#222" text-anchor="end">7.5</text>
<line x1="56" y1="339" x2="57.6" y2="339" stroke="#777" stroke-width="0.6"/>
<text x="54.4" y="341.5" font-size="7.2" fill="#222" text-anchor="end">5</text>
<line x1="56" y1="363.25" x2="57.6" y2="363.25" stroke="#777" stroke-width="0.6"/>
<text x="54.4" y="365.75" font-size="7.2" fill="#222" text-anchor="end">2.5</text>
<line x1="56" y1="387.5" x2="57.6" y2="387.5" stroke="#777" stroke-width="0.6"/>
<text x="54.4" y="390" font-size="7.2" fill="#222" text-anchor="end">0</text>
<line x1="56" y1="411.75" x2="57.6" y2="411.75" stroke="#777" stroke-width="0.6"/>
<text x="54.4" y="414.25" font-size="7.2" fill="#222" text-anchor="end">-2.5</text>
<line x1="56" y1="436" x2="57.6" y2="436" stroke="#777" stroke-width="0.6"/>
<text x="54.4" y="438.5" font-size="7.2" fill="#222" text-anchor="end">-5</text>
<g fill="none" stroke-width="0.85" stroke-linecap="round" stroke-linejoin="round">
<path d="M61.4 387.5 C63.12 389.47 68.72 396.09 71.71 399.35 C74.69 402.61 76.82 404.75 79.28 407.05 C81.74 409.34 84.88 411.54 86.48 413.12 C88.08 414.7 88.5 415.96 88.91 416.53" stroke="url(#eC)"/>
<path d="M86.48 413.12 C86.86 413.37 87.87 414.19 88.75 414.6 C89.64 415.01 91.28 415.4 91.78 415.56" stroke="#3848c8"/>
<path d="M77.08 387.5 C78.71 389.23 83.97 394.66 86.86 397.87 C89.75 401.08 93.17 405.27 94.44 406.75" stroke="url(#eY)"/>
<path d="M88.91 416.53 C89.39 416.04 90.99 414.84 91.78 413.64 C92.58 412.44 93.24 410.49 93.68 409.34 C94.12 408.2 94.31 407.18 94.44 406.75" stroke="#3848c8"/>
<path d="M88.91 416.53 C89.39 416.37 90.18 415.61 91.78 415.56 C93.39 415.51 96.44 416.17 98.53 416.23 C100.61 416.29 102.35 416.13 104.29 415.93 C106.22 415.74 108.19 415.46 110.12 415.05 C112.05 414.63 113.78 413.58 115.88 413.42 C117.98 413.26 119.96 413.81 122.7 414.08 C125.44 414.35 129.46 414.76 132.32 415.05 C135.19 415.33 138.64 415.66 139.9 415.79" stroke="url(#eBl)"/>
<path d="M94.44 406.75 C95.12 407.31 97.2 409.17 98.53 410.08 C99.85 411 100.78 411.49 102.39 412.23 C104.01 412.97 105.98 413.84 108.23 414.53 C110.48 415.22 113.47 415.96 115.88 416.38 C118.29 416.8 119.96 416.97 122.7 417.04 C125.44 417.12 129.46 416.91 132.32 416.82 C135.19 416.74 137.37 416.72 139.9 416.53 C142.43 416.33 144.95 416.06 147.48 415.64 C150 415.22 152.53 414.84 155.05 414.01 C157.58 413.18 160.11 411.89 162.63 410.68 C165.16 409.47 167.18 408.32 170.21 406.75 C173.24 405.18 177.03 403.37 180.82 401.27 C184.61 399.17 189.28 396.46 192.94 394.16 C196.6 391.87 201.15 388.61 202.79 387.5" stroke="url(#eBd)"/>
<path d="M94.44 406.75 C95.12 407.16 96.89 408.53 98.53 409.2 C100.17 409.86 102.35 410.44 104.29 410.75 C106.22 411.06 107.85 411.12 110.12 411.05 C112.39 410.97 115.36 410.74 117.93 410.31 C120.49 409.87 123.36 409.22 125.5 408.45 C127.65 407.69 129.92 406.17 130.81 405.72" stroke="#58a8d8"/>
<path d="M130.81 405.72 C132.32 405.96 135.86 406.95 139.9 407.2 C143.94 407.44 151.01 407.52 155.05 407.2 C159.1 406.88 161.12 406.21 164.15 405.27 C167.18 404.33 170.97 402.52 173.24 401.57 C175.51 400.62 177.03 399.9 177.79 399.57" stroke="#40d0d0"/>
<path d="M100.65 387.5 L109.59 398.61" stroke="url(#eC5)"/>
<path d="M109.59 398.61 C109.2 399.53 108.28 402.37 107.24 404.16 C106.21 405.95 104.83 407.69 103.38 409.34 C101.93 411 99.82 413.06 98.53 414.08 C97.24 415.11 96.71 415.21 95.65 415.49 C94.59 415.77 92.74 415.74 92.16 415.79" stroke="#3040c0"/>
<path d="M109.59 398.61 C109.84 399.22 110.37 400.75 111.11 402.31 C111.84 403.86 113.19 406.05 113.99 407.94 C114.78 409.82 115.54 412.28 115.88 413.64 C116.22 415 116.01 415.67 116.03 416.08" stroke="#d2d648"/>
<path d="M109.59 398.61 C111.36 398.9 116.66 399.96 120.2 400.38 C123.74 400.8 127.52 401.1 130.81 401.12 C134.09 401.15 136.87 400.83 139.9 400.53 C142.93 400.24 146.09 399.79 148.99 399.35 C151.9 398.9 155.94 398.11 157.33 397.87" stroke="#70dc70"/>
<path d="M157.33 397.87 C158.46 398.24 162 399.45 164.15 400.09 C166.29 400.73 168.44 401.59 170.21 401.72 C171.98 401.84 173.62 401.22 174.76 400.83 C175.89 400.43 176.65 399.59 177.03 399.35" stroke="#b0e040"/>
<path d="M124.22 387.5 C124.81 389.23 126.68 394.83 127.78 397.87 C128.88 400.9 129.8 403.12 130.81 405.72 C131.82 408.31 133.08 411.69 133.84 413.42 C134.6 415.14 135.1 415.64 135.35 416.08" stroke="url(#eC8)"/>
<path d="M163.47 387.5 C162.44 389.23 159.23 394.78 157.33 397.87 C155.42 400.95 154.17 403.42 152.02 406.01 C149.88 408.6 146.47 411.74 144.45 413.42 C142.43 415.09 140.66 415.64 139.9 416.08" stroke="url(#eE)"/>
<path d="M187.03 387.5 C185.36 389.47 179.83 396.51 177.03 399.35 C174.22 402.19 172.61 402.8 170.21 404.53 C167.81 406.26 165.16 408.23 162.63 409.71 C160.11 411.19 157.58 412.5 155.05 413.42 C152.53 414.33 150 414.77 147.48 415.19 C144.95 415.61 142.43 415.96 139.9 415.93 C137.37 415.91 133.59 415.19 132.32 415.05" stroke="url(#eF)"/>
<path d="M177.03 399.35 C177.47 399.72 180.31 401.12 179.68 401.57 C179.05 402.01 174.31 401.94 173.24 402.01" stroke="#40d040"/>
</g>
<circle cx="61.4" cy="387.5" r="1.7" fill="#000"/>
<circle cx="77.1" cy="387.5" r="1.7" fill="#000"/>
<circle cx="100.65" cy="387.5" r="1.7" fill="#000"/>
<circle cx="124.2" cy="387.5" r="1.7" fill="#000"/>
<circle cx="163.45" cy="387.5" r="1.7" fill="#000"/>
<circle cx="187" cy="387.5" r="1.7" fill="#000"/>
<circle cx="202.7" cy="387.5" r="1.7" fill="#000"/>
<rect x="237" y="310" width="10.9" height="126.1" fill="url(#cbE)"/>
<line x1="246.3" y1="328.8" x2="247.9" y2="328.8" stroke="#333" stroke-width="0.4"/>
<text x="251.1" y="331.85" font-size="8.9" fill="#222">300</text>
<line x1="246.3" y1="349.6" x2="247.9" y2="349.6" stroke="#333" stroke-width="0.4"/>
<text x="251.1" y="352.65" font-size="8.9" fill="#222">250</text>
<line x1="246.3" y1="370.4" x2="247.9" y2="370.4" stroke="#333" stroke-width="0.4"/>
<text x="251.1" y="373.45" font-size="8.9" fill="#222">200</text>
<line x1="246.3" y1="391.2" x2="247.9" y2="391.2" stroke="#333" stroke-width="0.4"/>
<text x="251.1" y="394.25" font-size="8.9" fill="#222">150</text>
<line x1="246.3" y1="412" x2="247.9" y2="412" stroke="#333" stroke-width="0.4"/>
<text x="251.1" y="415.05" font-size="8.9" fill="#222">100</text>
<line x1="246.3" y1="432.7" x2="247.9" y2="432.7" stroke="#333" stroke-width="0.4"/>
<text x="251.1" y="435.75" font-size="8.9" fill="#222">50</text>
<text x="238.6" y="445.6" font-size="9" fill="#222" textLength="22.3" lengthAdjust="spacing"><tspan font-style="italic">N</tspan> (N)</text>
<text x="123.4" y="456.2" font-size="7.2" fill="#222" textLength="17.4" lengthAdjust="spacing"><tspan font-style="italic">x</tspan> (m)</text>
<text transform="translate(34.6 381.6) rotate(-90)" font-size="7" fill="#222" textLength="17.2" lengthAdjust="spacing"><tspan font-style="italic">y</tspan> (m)</text>
<text class="cap" x="139.8" y="477.2">(e)</text>
</g>
<g id="pf">
<path d="M352.1 311.2 V440 H512" fill="none" stroke="#555" stroke-width="0.7"/>
<path d="M349.6 430.7 H352.1 M350.8 420.8 H352.1 M349.6 410.9 H352.1 M350.8 401 H352.1 M349.6 391.1 H352.1 M350.8 381.2 H352.1 M349.6 371.3 H352.1 M350.8 361.4 H352.1 M349.6 351.5 H352.1 M350.8 341.6 H352.1 M349.6 331.7 H352.1 M350.8 321.8 H352.1 M349.6 311.9 H352.1" stroke="#555" stroke-width="0.5" fill="none"/>
<text class="mo" x="347.9" y="313.8" font-size="5.6" fill="#555" text-anchor="end" textLength="11.2" lengthAdjust="spacingAndGlyphs">0.15</text>
<text class="mo" x="347.9" y="333.6" font-size="5.6" fill="#555" text-anchor="end" textLength="11.2" lengthAdjust="spacingAndGlyphs">0.10</text>
<text class="mo" x="347.9" y="353.4" font-size="5.6" fill="#555" text-anchor="end" textLength="11.2" lengthAdjust="spacingAndGlyphs">0.05</text>
<text class="mo" x="347.9" y="373.2" font-size="5.6" fill="#555" text-anchor="end" textLength="11.2" lengthAdjust="spacingAndGlyphs">0.00</text>
<text class="mo" x="347.9" y="393" font-size="5.6" fill="#555" text-anchor="end" textLength="13.6" lengthAdjust="spacingAndGlyphs">-0.05</text>
<text class="mo" x="347.9" y="412.8" font-size="5.6" fill="#555" text-anchor="end" textLength="13.6" lengthAdjust="spacingAndGlyphs">-0.10</text>
<text class="mo" x="347.9" y="432.6" font-size="5.6" fill="#555" text-anchor="end" textLength="13.6" lengthAdjust="spacingAndGlyphs">-0.15</text>
<path d="M354.8 440 V441.4 M357.55 440 V442.4 M360.3 440 V441.4 M363.05 440 V442.4 M365.8 440 V441.4 M368.55 440 V442.4 M371.3 440 V441.4 M374.05 440 V442.4 M376.8 440 V441.4 M379.55 440 V442.4 M382.3 440 V441.4 M385.05 440 V442.4 M387.8 440 V441.4 M390.55 440 V442.4 M393.3 440 V441.4 M396.05 440 V442.4 M398.8 440 V441.4 M401.55 440 V442.4 M404.3 440 V441.4 M407.05 440 V442.4 M409.8 440 V441.4 M412.55 440 V442.4 M415.3 440 V441.4 M418.05 440 V442.4 M420.8 440 V441.4 M423.55 440 V442.4 M426.3 440 V441.4 M429.05 440 V442.4 M431.8 440 V441.4 M434.55 440 V442.4 M437.3 440 V441.4 M440.05 440 V442.4 M442.8 440 V441.4 M445.55 440 V442.4 M448.3 440 V441.4 M451.05 440 V442.4 M453.8 440 V441.4 M456.55 440 V442.4 M459.3 440 V441.4 M462.05 440 V442.4 M464.8 440 V441.4 M467.55 440 V442.4 M470.3 440 V441.4 M473.05 440 V442.4 M475.8 440 V441.4 M478.55 440 V442.4 M481.3 440 V441.4 M484.05 440 V442.4 M486.8 440 V441.4 M489.55 440 V442.4 M492.3 440 V441.4 M495.05 440 V442.4 M497.8 440 V441.4 M500.55 440 V442.4 M503.3 440 V441.4 M506.05 440 V442.4 M508.8 440 V441.4 M511.55 440 V442.4" stroke="#555" stroke-width="0.5" fill="none"/>
<text class="mo" transform="translate(365.1 447.6) rotate(-50)" font-size="5" fill="#6a6a6a" text-anchor="end" >M0</text>
<text class="mo" transform="translate(370.6 447.6) rotate(-50)" font-size="5" fill="#6a6a6a" text-anchor="end" >M1</text>
<text class="mo" transform="translate(376.1 447.6) rotate(-50)" font-size="5" fill="#6a6a6a" text-anchor="end" >M2</text>
<text class="mo" transform="translate(381.6 447.6) rotate(-50)" font-size="5" fill="#6a6a6a" text-anchor="end" >M3</text>
<text class="mo" transform="translate(387.1 447.6) rotate(-50)" font-size="5" fill="#6a6a6a" text-anchor="end" >M4</text>
<text class="mo" transform="translate(392.6 447.6) rotate(-50)" font-size="5" fill="#6a6a6a" text-anchor="end" >M5</text>
<text class="mo" transform="translate(398.1 447.6) rotate(-50)" font-size="5" fill="#6a6a6a" text-anchor="end" >M6</text>
<text class="mo" transform="translate(403.6 447.6) rotate(-50)" font-size="5" fill="#6a6a6a" text-anchor="end" >M7</text>
<text class="mo" transform="translate(409.1 447.6) rotate(-50)" font-size="5" fill="#6a6a6a" text-anchor="end" >M8</text>
<text class="mo" transform="translate(414.6 447.6) rotate(-50)" font-size="5" fill="#6a6a6a" text-anchor="end" >M9</text>
<text class="mo" transform="translate(420.1 447.6) rotate(-50)" font-size="5" fill="#6a6a6a" text-anchor="end" textLength="5.6" lengthAdjust="spacingAndGlyphs">M10</text>
<text class="mo" transform="translate(425.6 447.6) rotate(-50)" font-size="5" fill="#6a6a6a" text-anchor="end" textLength="5.6" lengthAdjust="spacingAndGlyphs">M11</text>
<text class="mo" transform="translate(431.1 447.6) rotate(-50)" font-size="5" fill="#6a6a6a" text-anchor="end" textLength="5.6" lengthAdjust="spacingAndGlyphs">M12</text>
<text class="mo" transform="translate(436.6 447.6) rotate(-50)" font-size="5" fill="#6a6a6a" text-anchor="end" textLength="5.6" lengthAdjust="spacingAndGlyphs">M13</text>
<text class="mo" transform="translate(442.1 447.6) rotate(-50)" font-size="5" fill="#6a6a6a" text-anchor="end" textLength="5.6" lengthAdjust="spacingAndGlyphs">M14</text>
<text class="mo" transform="translate(447.6 447.6) rotate(-50)" font-size="5" fill="#6a6a6a" text-anchor="end" textLength="5.6" lengthAdjust="spacingAndGlyphs">M15</text>
<text class="mo" transform="translate(453.1 447.6) rotate(-50)" font-size="5" fill="#6a6a6a" text-anchor="end" textLength="5.6" lengthAdjust="spacingAndGlyphs">M16</text>
<text class="mo" transform="translate(458.6 447.6) rotate(-50)" font-size="5" fill="#6a6a6a" text-anchor="end" textLength="5.6" lengthAdjust="spacingAndGlyphs">M17</text>
<text class="mo" transform="translate(464.1 447.6) rotate(-50)" font-size="5" fill="#6a6a6a" text-anchor="end" textLength="5.6" lengthAdjust="spacingAndGlyphs">M18</text>
<text class="mo" transform="translate(469.6 447.6) rotate(-50)" font-size="5" fill="#6a6a6a" text-anchor="end" textLength="5.6" lengthAdjust="spacingAndGlyphs">M19</text>
<text class="mo" transform="translate(475.1 447.6) rotate(-50)" font-size="5" fill="#6a6a6a" text-anchor="end" textLength="5.6" lengthAdjust="spacingAndGlyphs">M20</text>
<text class="mo" transform="translate(480.6 447.6) rotate(-50)" font-size="5" fill="#6a6a6a" text-anchor="end" textLength="5.6" lengthAdjust="spacingAndGlyphs">M21</text>
<text class="mo" transform="translate(486.1 447.6) rotate(-50)" font-size="5" fill="#6a6a6a" text-anchor="end" textLength="5.6" lengthAdjust="spacingAndGlyphs">M22</text>
<text class="mo" transform="translate(491.6 447.6) rotate(-50)" font-size="5" fill="#6a6a6a" text-anchor="end" textLength="5.6" lengthAdjust="spacingAndGlyphs">M23</text>
<text class="mo" transform="translate(497.1 447.6) rotate(-50)" font-size="5" fill="#6a6a6a" text-anchor="end" textLength="5.6" lengthAdjust="spacingAndGlyphs">M24</text>
<text class="mo" transform="translate(502.6 447.6) rotate(-50)" font-size="5" fill="#6a6a6a" text-anchor="end" textLength="5.6" lengthAdjust="spacingAndGlyphs">M25</text>
<polyline points="362.9,374.47 368.4,364.96 373.9,353.48 379.4,374.86 384.9,367.74 390.4,389.12 395.9,376.45 401.4,327.34 406.9,336.45 412.4,347.54 417.9,348.73 423.4,351.9 428.9,351.1 434.4,344.37 439.9,362.98 445.4,372.09 450.9,361.8 456.4,383.97 461.9,360.21 467.4,383.18 472.9,379.22 478.4,367.34 483.9,376.84 489.4,365.36 494.9,377.24 500.4,372.09" fill="none" stroke="#f09a9a" stroke-width="0.6"/>
<polyline points="362.9,404.17 368.4,376.05 373.9,377.64 379.4,381.2 384.9,399.42 390.4,400.6 395.9,409.71 401.4,399.81 406.9,379.22 412.4,377.24 417.9,383.18 423.4,397.04 428.9,429.91 434.4,422.78 439.9,389.12 445.4,374.47 450.9,377.24 456.4,376.45 461.9,413.28 467.4,396.25 472.9,391.89 478.4,368.13 483.9,418.82 489.4,393.87 494.9,390.7 500.4,378.43" fill="none" stroke="#70b8c0" stroke-width="0.6"/>
<polyline points="362.9,399.81 368.4,375.66 373.9,377.24 379.4,380.8 384.9,399.02 390.4,400.21 395.9,408.52 401.4,393.08 406.9,378.43 412.4,376.84 417.9,382.39 423.4,393.08 428.9,425.16 434.4,416.05 439.9,385.95 445.4,373.28 450.9,374.47 456.4,374.86 461.9,410.5 467.4,395.06 472.9,391.1 478.4,367.34 483.9,418.42 489.4,393.48 494.9,390.31 500.4,378.03" fill="none" stroke="#68b8a8" stroke-width="0.6"/>
<line x1="362.9" y1="371.3" x2="500.4" y2="371.3" stroke="#999" stroke-width="0.5"/>
<rect x="361.6" y="370" width="2.6" height="2.6" fill="#2a2a2a"/>
<rect x="367.1" y="370" width="2.6" height="2.6" fill="#2a2a2a"/>
<rect x="372.6" y="370" width="2.6" height="2.6" fill="#2a2a2a"/>
<rect x="378.1" y="370" width="2.6" height="2.6" fill="#2a2a2a"/>
<rect x="383.6" y="370" width="2.6" height="2.6" fill="#2a2a2a"/>
<rect x="389.1" y="370" width="2.6" height="2.6" fill="#2a2a2a"/>
<rect x="394.6" y="370" width="2.6" height="2.6" fill="#2a2a2a"/>
<rect x="400.1" y="370" width="2.6" height="2.6" fill="#2a2a2a"/>
<rect x="405.6" y="370" width="2.6" height="2.6" fill="#2a2a2a"/>
<rect x="411.1" y="370" width="2.6" height="2.6" fill="#2a2a2a"/>
<rect x="416.6" y="370" width="2.6" height="2.6" fill="#2a2a2a"/>
<rect x="422.1" y="370" width="2.6" height="2.6" fill="#2a2a2a"/>
<rect x="427.6" y="370" width="2.6" height="2.6" fill="#2a2a2a"/>
<rect x="433.1" y="370" width="2.6" height="2.6" fill="#2a2a2a"/>
<rect x="438.6" y="370" width="2.6" height="2.6" fill="#2a2a2a"/>
<rect x="444.1" y="370" width="2.6" height="2.6" fill="#2a2a2a"/>
<rect x="449.6" y="370" width="2.6" height="2.6" fill="#2a2a2a"/>
<rect x="455.1" y="370" width="2.6" height="2.6" fill="#2a2a2a"/>
<rect x="460.6" y="370" width="2.6" height="2.6" fill="#2a2a2a"/>
<rect x="466.1" y="370" width="2.6" height="2.6" fill="#2a2a2a"/>
<rect x="471.6" y="370" width="2.6" height="2.6" fill="#2a2a2a"/>
<rect x="477.1" y="370" width="2.6" height="2.6" fill="#2a2a2a"/>
<rect x="482.6" y="370" width="2.6" height="2.6" fill="#2a2a2a"/>
<rect x="488.1" y="370" width="2.6" height="2.6" fill="#2a2a2a"/>
<rect x="493.6" y="370" width="2.6" height="2.6" fill="#2a2a2a"/>
<rect x="499.1" y="370" width="2.6" height="2.6" fill="#2a2a2a"/>
<circle cx="362.9" cy="374.47" r="1.6" fill="#f01818"/>
<circle cx="368.4" cy="364.96" r="1.6" fill="#f01818"/>
<circle cx="373.9" cy="353.48" r="1.6" fill="#f01818"/>
<circle cx="379.4" cy="374.86" r="1.6" fill="#f01818"/>
<circle cx="384.9" cy="367.74" r="1.6" fill="#f01818"/>
<circle cx="390.4" cy="389.12" r="1.6" fill="#f01818"/>
<circle cx="395.9" cy="376.45" r="1.6" fill="#f01818"/>
<circle cx="401.4" cy="327.34" r="1.6" fill="#f01818"/>
<circle cx="406.9" cy="336.45" r="1.6" fill="#f01818"/>
<circle cx="412.4" cy="347.54" r="1.6" fill="#f01818"/>
<circle cx="417.9" cy="348.73" r="1.6" fill="#f01818"/>
<circle cx="423.4" cy="351.9" r="1.6" fill="#f01818"/>
<circle cx="428.9" cy="351.1" r="1.6" fill="#f01818"/>
<circle cx="434.4" cy="344.37" r="1.6" fill="#f01818"/>
<circle cx="439.9" cy="362.98" r="1.6" fill="#f01818"/>
<circle cx="445.4" cy="372.09" r="1.6" fill="#f01818"/>
<circle cx="450.9" cy="361.8" r="1.6" fill="#f01818"/>
<circle cx="456.4" cy="383.97" r="1.6" fill="#f01818"/>
<circle cx="461.9" cy="360.21" r="1.6" fill="#f01818"/>
<circle cx="467.4" cy="383.18" r="1.6" fill="#f01818"/>
<circle cx="472.9" cy="379.22" r="1.6" fill="#f01818"/>
<circle cx="478.4" cy="367.34" r="1.6" fill="#f01818"/>
<circle cx="483.9" cy="376.84" r="1.6" fill="#f01818"/>
<circle cx="489.4" cy="365.36" r="1.6" fill="#f01818"/>
<circle cx="494.9" cy="377.24" r="1.6" fill="#f01818"/>
<circle cx="500.4" cy="372.09" r="1.6" fill="#f01818"/>
<path d="M362.9 402.27 l1.8 3 h-3.6 Z" fill="#1668e0"/>
<path d="M368.4 374.15 l1.8 3 h-3.6 Z" fill="#1668e0"/>
<path d="M373.9 375.74 l1.8 3 h-3.6 Z" fill="#1668e0"/>
<path d="M379.4 379.3 l1.8 3 h-3.6 Z" fill="#1668e0"/>
<path d="M384.9 397.52 l1.8 3 h-3.6 Z" fill="#1668e0"/>
<path d="M390.4 398.7 l1.8 3 h-3.6 Z" fill="#1668e0"/>
<path d="M395.9 407.81 l1.8 3 h-3.6 Z" fill="#1668e0"/>
<path d="M401.4 397.91 l1.8 3 h-3.6 Z" fill="#1668e0"/>
<path d="M406.9 377.32 l1.8 3 h-3.6 Z" fill="#1668e0"/>
<path d="M412.4 375.34 l1.8 3 h-3.6 Z" fill="#1668e0"/>
<path d="M417.9 381.28 l1.8 3 h-3.6 Z" fill="#1668e0"/>
<path d="M423.4 395.14 l1.8 3 h-3.6 Z" fill="#1668e0"/>
<path d="M428.9 428.01 l1.8 3 h-3.6 Z" fill="#1668e0"/>
<path d="M434.4 420.88 l1.8 3 h-3.6 Z" fill="#1668e0"/>
<path d="M439.9 387.22 l1.8 3 h-3.6 Z" fill="#1668e0"/>
<path d="M445.4 372.57 l1.8 3 h-3.6 Z" fill="#1668e0"/>
<path d="M450.9 375.34 l1.8 3 h-3.6 Z" fill="#1668e0"/>
<path d="M456.4 374.55 l1.8 3 h-3.6 Z" fill="#1668e0"/>
<path d="M461.9 411.38 l1.8 3 h-3.6 Z" fill="#1668e0"/>
<path d="M467.4 394.35 l1.8 3 h-3.6 Z" fill="#1668e0"/>
<path d="M472.9 389.99 l1.8 3 h-3.6 Z" fill="#1668e0"/>
<path d="M478.4 366.23 l1.8 3 h-3.6 Z" fill="#1668e0"/>
<path d="M483.9 416.92 l1.8 3 h-3.6 Z" fill="#1668e0"/>
<path d="M489.4 391.97 l1.8 3 h-3.6 Z" fill="#1668e0"/>
<path d="M494.9 388.8 l1.8 3 h-3.6 Z" fill="#1668e0"/>
<path d="M500.4 376.53 l1.8 3 h-3.6 Z" fill="#1668e0"/>
<path d="M362.9 401.71 l1.8 -3 h-3.6 Z" fill="#18a848"/>
<path d="M368.4 377.56 l1.8 -3 h-3.6 Z" fill="#18a848"/>
<path d="M373.9 379.14 l1.8 -3 h-3.6 Z" fill="#18a848"/>
<path d="M379.4 382.7 l1.8 -3 h-3.6 Z" fill="#18a848"/>
<path d="M384.9 400.92 l1.8 -3 h-3.6 Z" fill="#18a848"/>
<path d="M390.4 402.11 l1.8 -3 h-3.6 Z" fill="#18a848"/>
<path d="M395.9 410.42 l1.8 -3 h-3.6 Z" fill="#18a848"/>
<path d="M401.4 394.98 l1.8 -3 h-3.6 Z" fill="#18a848"/>
<path d="M406.9 380.33 l1.8 -3 h-3.6 Z" fill="#18a848"/>
<path d="M412.4 378.74 l1.8 -3 h-3.6 Z" fill="#18a848"/>
<path d="M417.9 384.29 l1.8 -3 h-3.6 Z" fill="#18a848"/>
<path d="M423.4 394.98 l1.8 -3 h-3.6 Z" fill="#18a848"/>
<path d="M428.9 427.06 l1.8 -3 h-3.6 Z" fill="#18a848"/>
<path d="M434.4 417.95 l1.8 -3 h-3.6 Z" fill="#18a848"/>
<path d="M439.9 387.85 l1.8 -3 h-3.6 Z" fill="#18a848"/>
<path d="M445.4 375.18 l1.8 -3 h-3.6 Z" fill="#18a848"/>
<path d="M450.9 376.37 l1.8 -3 h-3.6 Z" fill="#18a848"/>
<path d="M456.4 376.76 l1.8 -3 h-3.6 Z" fill="#18a848"/>
<path d="M461.9 412.4 l1.8 -3 h-3.6 Z" fill="#18a848"/>
<path d="M467.4 396.96 l1.8 -3 h-3.6 Z" fill="#18a848"/>
<path d="M472.9 393 l1.8 -3 h-3.6 Z" fill="#18a848"/>
<path d="M478.4 369.24 l1.8 -3 h-3.6 Z" fill="#18a848"/>
<path d="M483.9 420.32 l1.8 -3 h-3.6 Z" fill="#18a848"/>
<path d="M489.4 395.38 l1.8 -3 h-3.6 Z" fill="#18a848"/>
<path d="M494.9 392.21 l1.8 -3 h-3.6 Z" fill="#18a848"/>
<path d="M500.4 379.93 l1.8 -3 h-3.6 Z" fill="#18a848"/>
<rect x="446.4" y="308.3" width="72" height="31" fill="#fff" stroke="#777" stroke-width="0.5"/>
<line x1="448.5" y1="313.1" x2="459.5" y2="313.1" stroke="#999" stroke-width="0.6"/>
<rect x="452.7" y="311.8" width="2.6" height="2.6" fill="#2a2a2a"/>
<text class="mo" x="463.8" y="315.3" font-size="6.7" fill="#444" textLength="23.42" lengthAdjust="spacingAndGlyphs">Orcflex</text>
<line x1="448.5" y1="320.37" x2="459.5" y2="320.37" stroke="#f09a9a" stroke-width="0.6"/>
<circle cx="454" cy="320.37" r="1.6" fill="#f01818"/>
<text class="mo" x="463.8" y="322.57" font-size="6.7" fill="#444" textLength="16.73" lengthAdjust="spacingAndGlyphs">Ansys</text>
<line x1="448.5" y1="327.64" x2="459.5" y2="327.64" stroke="#70b8c0" stroke-width="0.6"/>
<path d="M454 325.94 l1.8 3 h-3.6 Z" fill="#1668e0"/>
<text class="mo" x="463.8" y="329.84" font-size="6.7" fill="#444" textLength="53.52" lengthAdjust="spacingAndGlyphs">Midas(100 units)</text>
<line x1="448.5" y1="334.91" x2="459.5" y2="334.91" stroke="#68b8a8" stroke-width="0.6"/>
<path d="M454 336.51 l1.8 -3 h-3.6 Z" fill="#18a848"/>
<text class="mo" x="463.8" y="337.11" font-size="6.7" fill="#444" textLength="50.18" lengthAdjust="spacingAndGlyphs">Midas(10 units)</text>
<text class="mo" x="432.7" y="462.8" font-size="6.8" fill="#555" text-anchor="middle" textLength="16.6" lengthAdjust="spacingAndGlyphs">Grade</text>
<text class="mo" transform="translate(331.5 375.9) rotate(-90)" font-size="6.8" fill="#555" text-anchor="middle" textLength="30.7" lengthAdjust="spacingAndGlyphs">Deviation</text>
<text class="cap" x="417.7" y="477.8">(f)</text>
</g>
</svg></body></html>
